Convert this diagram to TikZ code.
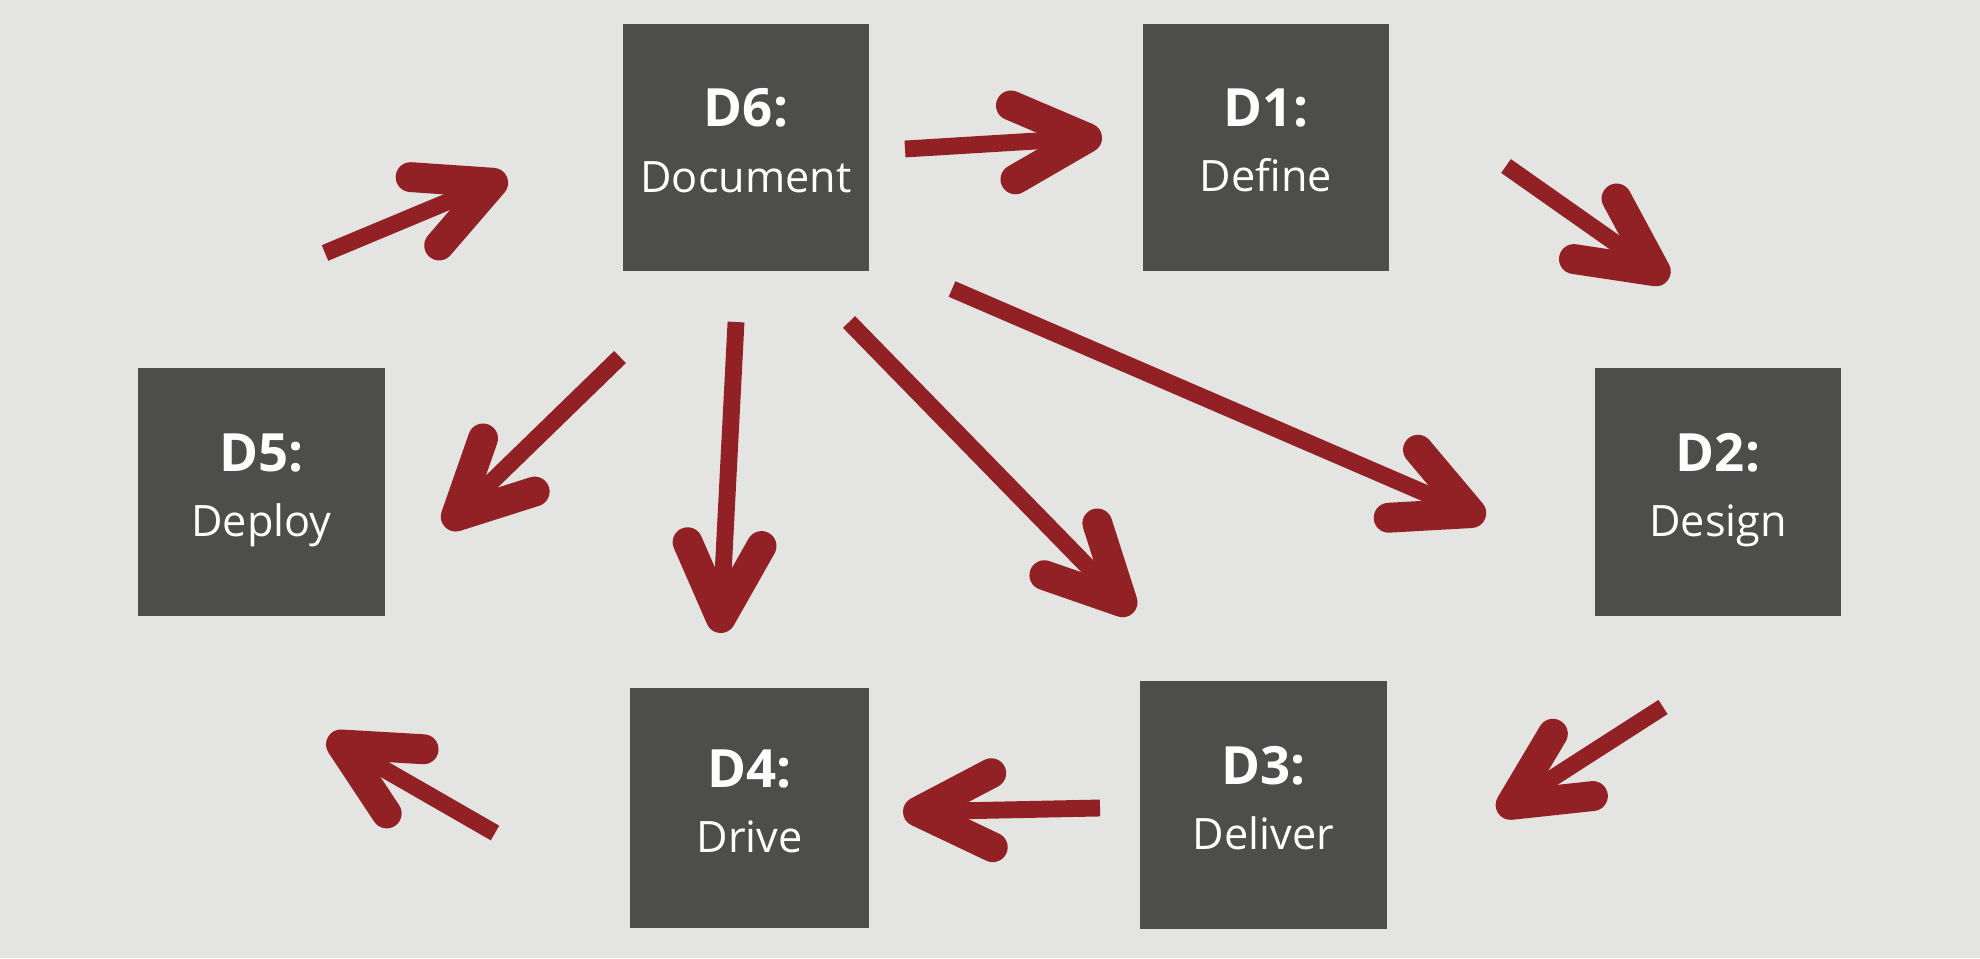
\documentclass[tikz,border=0pt]{standalone}
\usepackage{fontspec}
\setmainfont{Open Sans}
\usetikzlibrary{arrows.meta}

\definecolor{paper}{HTML}{E4E4E2}
\definecolor{slate}{HTML}{4D4D4B}
\definecolor{wine}{HTML}{922125}

\newcommand{\dnum}[1]{{\bfseries\fontsize{15}{18.5}\selectfont #1}}

\begin{document}
\begin{tikzpicture}[x=0.01cm,y=-0.01cm,
  box/.style={fill=slate,text=white,minimum width=2.46cm,minimum height=2.47cm,
    inner sep=0pt,align=center,text depth=4pt,font=\fontsize{12.3}{18.5}\selectfont},
  brush/.style={wine,line width=4.8pt,
    -{Straight Barb[length=7.4mm,width=7.4mm,line width=8.5pt 0,round]}}]
\fill[paper] (0,0) rectangle (1980,958);

% the six steps
\node [box] (6) at (746,147.5) {\dnum{D6:}\\Document};
\node [box] (1) at (1266,147.5) {\dnum{D1:}\\Define};
\node [box] (2) at (1718,492) {\dnum{D2:}\\Design};
\node [box] (3) at (1263.5,805) {\dnum{D3:}\\Deliver};
\node [box,minimum width=2.39cm,minimum height=2.40cm] (4) at (749.5,808) {\dnum{D4:}\\Drive};
\node [box] (5) at (261.5,492) {\dnum{D5:}\\Deploy};

% arrow ends
\coordinate (56a) at (325,253);  \coordinate (56b) at (507,177);
\coordinate (61a) at (905,149);  \coordinate (61b) at (1102,137);
\coordinate (12a) at (1506,166); \coordinate (12b) at (1668,280);
\coordinate (23a) at (1663,707); \coordinate (23b) at (1498,813);
\coordinate (34a) at (1100,808); \coordinate (34b) at (903,812);
\coordinate (45a) at (495,833);  \coordinate (45b) at (328,737);
\coordinate (65a) at (620,357);  \coordinate (65b) at (445,527);
\coordinate (64a) at (736,322);  \coordinate (64b) at (720,633);
\coordinate (63a) at (849,322);  \coordinate (63b) at (1133,613);
\coordinate (62a) at (952,289);  \coordinate (62b) at (1485,519);

% the cycle
\draw [brush] (56a) -- (56b);
\draw [brush] (61a) -- (61b);
\draw [brush] (12a) -- (12b);
\draw [brush] (23a) -- (23b);
\draw [brush] (34a) -- (34b);
\draw [brush] (45a) -- (45b);

% from D6
\draw [brush] (65a) -- (65b);
\draw [brush] (64a) -- (64b);
\draw [brush] (63a) -- (63b);
\draw [brush] (62a) -- (62b);
\end{tikzpicture}
\end{document}
